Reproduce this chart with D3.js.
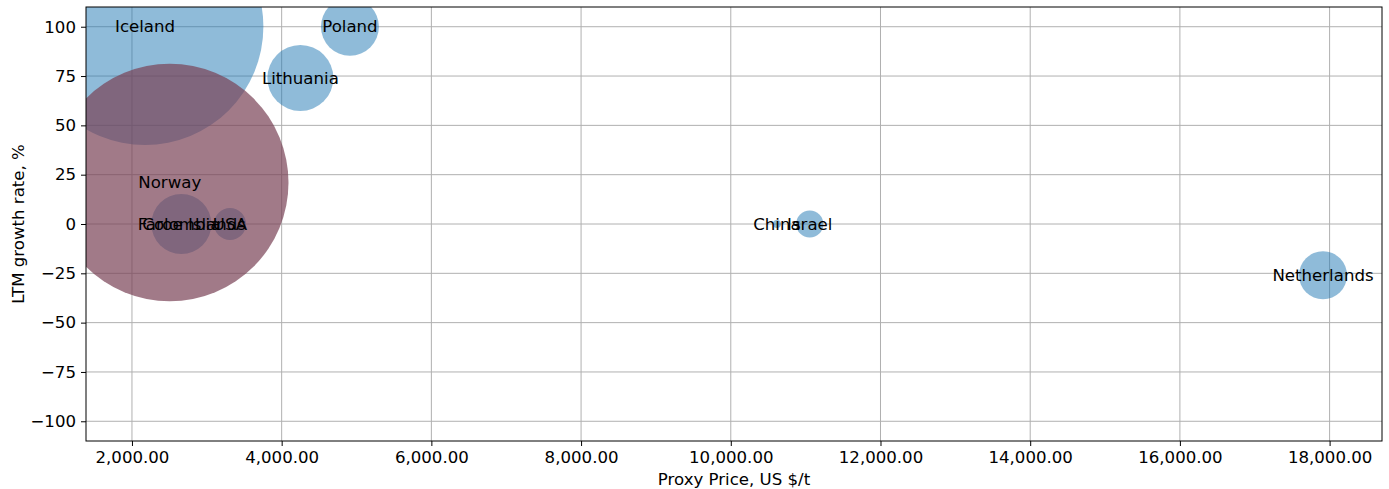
<!DOCTYPE html>
<html>
<head>
<meta charset="utf-8">
<script src="https://cdn.jsdelivr.net/npm/d3@7"></script>
<style>
  body { margin: 0; background: #fff; }
  svg { display: block; font-family: "DejaVu Sans", sans-serif; }
</style>
</head>
<body>
<svg id="chart" width="1389" height="489"></svg>
<script>
const countries = ["Iceland", "Poland", "Lithuania", "Faroe Islands", "Colombia", "USA", "China", "Israel", "Netherlands", "Norway"];
const prices = [2175, 4912, 4250, 2800, 2660, 3310, 10617, 11055, 17912, 2505];
const growth = [100, 100, 74, 0, 0, 0, 0, 0, -26, 21];
const volumes = [14000, 840, 1090, 9, 900, 256, 16, 185, 576, 14100];
const groups = ["a", "a", "a", "a", "a", "a", "a", "a", "a", "b"];
const xTicks = [2000, 4000, 6000, 8000, 10000, 12000, 14000, 16000, 18000];
const yTicks = [-100, -75, -50, -25, 0, 25, 50, 75, 100];

const W = 1389, H = 489;
const m = { left: 86, right: 7, top: 7, bottom: 48 };
const svg = d3.select("#chart");
const pw = W - m.left - m.right, ph = H - m.top - m.bottom;

const x = d3.scaleLinear().domain([1386, 18700]).range([m.left, m.left + pw]);
const y = d3.scaleLinear().domain([-110, 110]).range([m.top + ph, m.top]);
const r = d3.scaleSqrt().domain([0, 14161]).range([0, 119]);

const fs = "16.6px";

// grid
svg.append("g").selectAll("line.gx").data(xTicks).join("line")
  .attr("x1", d => x(d)).attr("x2", d => x(d))
  .attr("y1", m.top).attr("y2", m.top + ph)
  .attr("stroke", "#b0b0b0").attr("stroke-width", 1);
svg.append("g").selectAll("line.gy").data(yTicks).join("line")
  .attr("y1", d => y(d)).attr("y2", d => y(d))
  .attr("x1", m.left).attr("x2", m.left + pw)
  .attr("stroke", "#b0b0b0").attr("stroke-width", 1);

svg.append("clipPath").attr("id", "clip").append("rect")
  .attr("x", m.left).attr("y", m.top).attr("width", pw).attr("height", ph);

const data = countries.map((c, i) => ({ c, px: prices[i], g: growth[i], v: volumes[i], grp: groups[i] }));
const order = data.filter(d => d.grp === "a").concat(data.filter(d => d.grp === "b"));

const gp = svg.append("g").attr("clip-path", "url(#clip)");
gp.selectAll("circle").data(order).join("circle")
  .attr("cx", d => x(d.px)).attr("cy", d => y(d.g)).attr("r", d => r(d.v))
  .attr("fill", d => d.grp === "a" ? "#1f77b4" : "rgb(121,66,86)")
  .attr("fill-opacity", d => d.grp === "a" ? 0.5 : 0.7);

gp.selectAll("text").data(order).join("text")
  .attr("x", d => x(d.px)).attr("y", d => y(d.g))
  .attr("text-anchor", "middle").attr("dominant-baseline", "central")
  .attr("font-size", fs).attr("fill", "#000")
  .text(d => d.c);

// axes
const fmt = d3.format(",.2f");
const xAxis = svg.append("g").attr("transform", `translate(0,${m.top + ph})`)
  .call(d3.axisBottom(x).tickValues(xTicks).tickFormat(fmt).tickSize(5).tickPadding(5));
const yAxis = svg.append("g").attr("transform", `translate(${m.left},0)`)
  .call(d3.axisLeft(y).tickValues(yTicks).tickFormat(d => d < 0 ? "\u2212" + Math.abs(d) : d).tickSize(5).tickPadding(5));
[xAxis, yAxis].forEach(a => {
  a.select(".domain").remove();
  a.selectAll("text").attr("font-size", fs).attr("font-family", "DejaVu Sans").attr("fill", "#000");
  a.selectAll("line").attr("stroke", "#000");
});

svg.append("rect").attr("x", m.left).attr("y", m.top).attr("width", pw).attr("height", ph)
  .attr("fill", "none").attr("stroke", "#000").attr("stroke-width", 1);

svg.append("text").attr("x", m.left + pw / 2).attr("y", 485)
  .attr("text-anchor", "middle").attr("font-size", fs).text("Proxy Price, US $/t");
svg.append("text").attr("transform", `translate(24,${m.top + ph / 2}) rotate(-90)`)
  .attr("text-anchor", "middle").attr("font-size", fs).text("LTM growth rate, %");
</script>
</body>
</html>
